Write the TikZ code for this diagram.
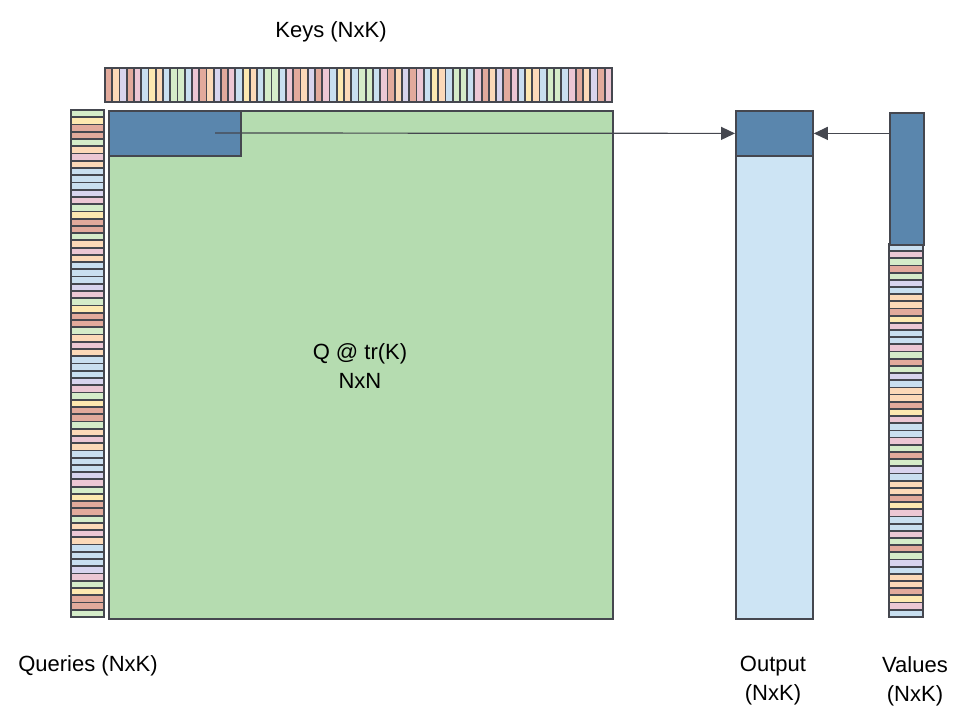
\documentclass[tikz,border=0pt]{standalone}
\usepackage{fontspec}
\setmainfont{Liberation Sans}
\usetikzlibrary{arrows.meta}
\definecolor{mgreen}{HTML}{B5DCB0}
\definecolor{mblue}{HTML}{5A86AD}
\definecolor{lblue}{HTML}{CDE4F4}
\definecolor{edge}{HTML}{45474F}
\definecolor{s0}{HTML}{FCD9B8}
\definecolor{s1}{HTML}{D5ECC9}
\definecolor{s2}{HTML}{C9DFF0}
\definecolor{s3}{HTML}{E2AA9C}
\definecolor{s4}{HTML}{D8D4EE}
\definecolor{s5}{HTML}{ECC7D4}
\definecolor{s6}{HTML}{FDE8B0}
\begin{document}
\begin{tikzpicture}[x=1pt,y=-1pt,
  box/.style={draw=edge,line width=1.8pt},
  lab/.style={font=\fontsize{22}{29}\selectfont,align=center},
  arr/.style={draw=edge,line width=1.2pt,-{Triangle[length=14pt,width=13pt]}}]
\useasboundingbox (0,0) rectangle (956,720);
\def\cols{{"s0","s1","s2","s3","s4","s5","s6","s2","s1","s5","s0","s3","s2"}}
% keys
\foreach \i in {0,...,69}{
  \pgfmathsetmacro{\c}{\cols[mod(\i*7+3,13)]}
  \draw[box,fill=\c] (105+\i*7.243,68) rectangle ++(7.243,34);}
% queries
\foreach \i in {0,...,69}{
  \pgfmathsetmacro{\c}{\cols[mod(\i*5+1,13)]}
  \draw[box,fill=\c] (71,110+\i*7.243) rectangle ++(33,7.243);}
% values stripes
\foreach \i in {0,...,51}{
  \pgfmathsetmacro{\c}{\cols[mod(\i*3+2,13)]}
  \draw[box,fill=\c] (889,244+\i*7.17) rectangle ++(34,7.17);}
\node[box,fill=mgreen,minimum width=504pt,minimum height=508pt,anchor=north west,inner sep=0] (m) at (108,110) {};
\node[box,fill=mblue,minimum width=132pt,minimum height=45pt,anchor=north west,inner sep=0] (blk) at (108,110) {};
\node[box,fill=lblue,minimum width=77pt,minimum height=508pt,anchor=north west,inner sep=0] (out) at (735,110) {};
\node[box,fill=mblue,minimum width=77pt,minimum height=45pt,anchor=north west,inner sep=0] (ot) at (735,110) {};
\node[box,fill=mblue,minimum width=34pt,minimum height=132pt,anchor=north west,inner sep=0] (vt) at (889,112) {};
\coordinate (a0) at (215,133);
\draw[arr] (a0) -- (ot.west);
\draw[arr] (vt.west |- ot.east) -- (ot.east);
\node[lab] (kl) at (331,32) {Keys (NxK)};
\node[lab] (ql) at (88,666) {Queries (NxK)};
\node[lab] (ml) at (360,366) {Q @ tr(K)\\NxN};
\node[lab] (ol) at (773,681) {Output\\(NxK)};
\node[lab] (vl) at (915,681) {Values\\(NxK)};
\end{tikzpicture}
\end{document}
